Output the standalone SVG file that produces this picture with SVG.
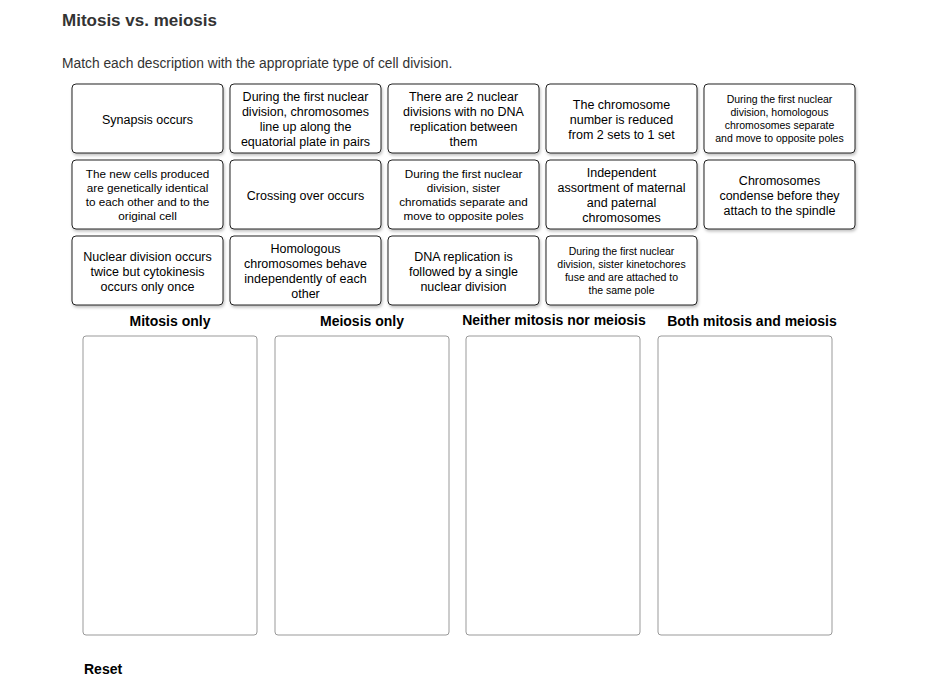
<svg xmlns="http://www.w3.org/2000/svg" width="936" height="676" viewBox="0 0 936 676">
<style>
text{font-family:"Liberation Sans",Arial,sans-serif;fill:#000}
.card rect{fill:#fff;stroke:#222;stroke-width:1}
.card text{font-size:12.5px;text-anchor:middle}
.card text.s{font-size:10.5px}
.card text.m{font-size:11.7px}
.bin rect{fill:#fff;stroke:#999;stroke-width:1}
.bin text{font-size:14px;font-weight:bold;text-anchor:middle}
</style>
<defs><filter id="sh" x="-10%" y="-10%" width="130%" height="130%"><feDropShadow dx="1" dy="2" stdDeviation="1.5" flood-color="#000" flood-opacity="0.25"/></filter></defs>
<rect width="936" height="676" fill="#fff"/>
<text x="62" y="26" style="font-size:17px;font-weight:bold;fill:#333">Mitosis vs. meiosis</text>
<text x="62" y="68" style="font-size:13.8px;fill:#333">Match each description with the appropriate type of cell division.</text>
<g id="c1" class="card"><rect x="72" y="84" width="151" height="69" rx="4" filter="url(#sh)"/><text x="147.5" y="124">Synapsis occurs</text></g>
<g id="c2" class="card"><rect x="230" y="84" width="151" height="69" rx="4" filter="url(#sh)"/><text x="305.5" y="101">During the first nuclear</text><text x="305.5" y="116">division, chromosomes</text><text x="305.5" y="131">line up along the</text><text x="305.5" y="146">equatorial plate in pairs</text></g>
<g id="c3" class="card"><rect x="388" y="84" width="151" height="69" rx="4" filter="url(#sh)"/><text x="463.5" y="101">There are 2 nuclear</text><text x="463.5" y="116">divisions with no DNA</text><text x="463.5" y="131">replication between</text><text x="463.5" y="146">them</text></g>
<g id="c4" class="card"><rect x="546" y="84" width="151" height="69" rx="4" filter="url(#sh)"/><text x="621.5" y="109">The chromosome</text><text x="621.5" y="124">number is reduced</text><text x="621.5" y="139">from 2 sets to 1 set</text></g>
<g id="c5" class="card"><rect x="704" y="84" width="151" height="69" rx="4" filter="url(#sh)"/><text class="s" x="779.5" y="103">During the first nuclear</text><text class="s" x="779.5" y="116">division, homologous</text><text class="s" x="779.5" y="129">chromosomes separate</text><text class="s" x="779.5" y="142">and move to opposite poles</text></g>
<g id="c6" class="card"><rect x="72" y="160" width="151" height="69" rx="4" filter="url(#sh)"/><text class="m" x="147.5" y="178">The new cells produced</text><text class="m" x="147.5" y="192">are genetically identical</text><text class="m" x="147.5" y="206">to each other and to the</text><text class="m" x="147.5" y="220">original cell</text></g>
<g id="c7" class="card"><rect x="230" y="160" width="151" height="69" rx="4" filter="url(#sh)"/><text x="305.5" y="200">Crossing over occurs</text></g>
<g id="c8" class="card"><rect x="388" y="160" width="151" height="69" rx="4" filter="url(#sh)"/><text class="m" x="463.5" y="178">During the first nuclear</text><text class="m" x="463.5" y="192">division, sister</text><text class="m" x="463.5" y="206">chromatids separate and</text><text class="m" x="463.5" y="220">move to opposite poles</text></g>
<g id="c9" class="card"><rect x="546" y="160" width="151" height="69" rx="4" filter="url(#sh)"/><text x="621.5" y="177">Independent</text><text x="621.5" y="192">assortment of maternal</text><text x="621.5" y="207">and paternal</text><text x="621.5" y="222">chromosomes</text></g>
<g id="c10" class="card"><rect x="704" y="160" width="151" height="69" rx="4" filter="url(#sh)"/><text x="779.5" y="185">Chromosomes</text><text x="779.5" y="200">condense before they</text><text x="779.5" y="215">attach to the spindle</text></g>
<g id="c11" class="card"><rect x="72" y="236" width="151" height="69" rx="4" filter="url(#sh)"/><text x="147.5" y="261">Nuclear division occurs</text><text x="147.5" y="276">twice but cytokinesis</text><text x="147.5" y="291">occurs only once</text></g>
<g id="c12" class="card"><rect x="230" y="236" width="151" height="69" rx="4" filter="url(#sh)"/><text x="305.5" y="253">Homologous</text><text x="305.5" y="268">chromosomes behave</text><text x="305.5" y="283">independently of each</text><text x="305.5" y="298">other</text></g>
<g id="c13" class="card"><rect x="388" y="236" width="151" height="69" rx="4" filter="url(#sh)"/><text x="463.5" y="261">DNA replication is</text><text x="463.5" y="276">followed by a single</text><text x="463.5" y="291">nuclear division</text></g>
<g id="c14" class="card"><rect x="546" y="236" width="151" height="69" rx="4" filter="url(#sh)"/><text class="s" x="621.5" y="255">During the first nuclear</text><text class="s" x="621.5" y="268">division, sister kinetochores</text><text class="s" x="621.5" y="281">fuse and are attached to</text><text class="s" x="621.5" y="294">the same pole</text></g>
<g id="b1" class="bin"><text x="170" y="326">Mitosis only</text><rect x="83" y="336" width="174" height="299" rx="3"/></g>
<g id="b2" class="bin"><text x="362" y="326">Meiosis only</text><rect x="275" y="336" width="174" height="299" rx="3"/></g>
<g id="b3" class="bin"><text x="554" y="325">Neither mitosis nor meiosis</text><rect x="466" y="336" width="174" height="299" rx="3"/></g>
<g id="b4" class="bin"><text x="752" y="326">Both mitosis and meiosis</text><rect x="658" y="336" width="174" height="299" rx="3"/></g>
<g id="connectors"/>
<text x="84" y="674" style="font-size:14px;font-weight:bold">Reset</text>
</svg>
